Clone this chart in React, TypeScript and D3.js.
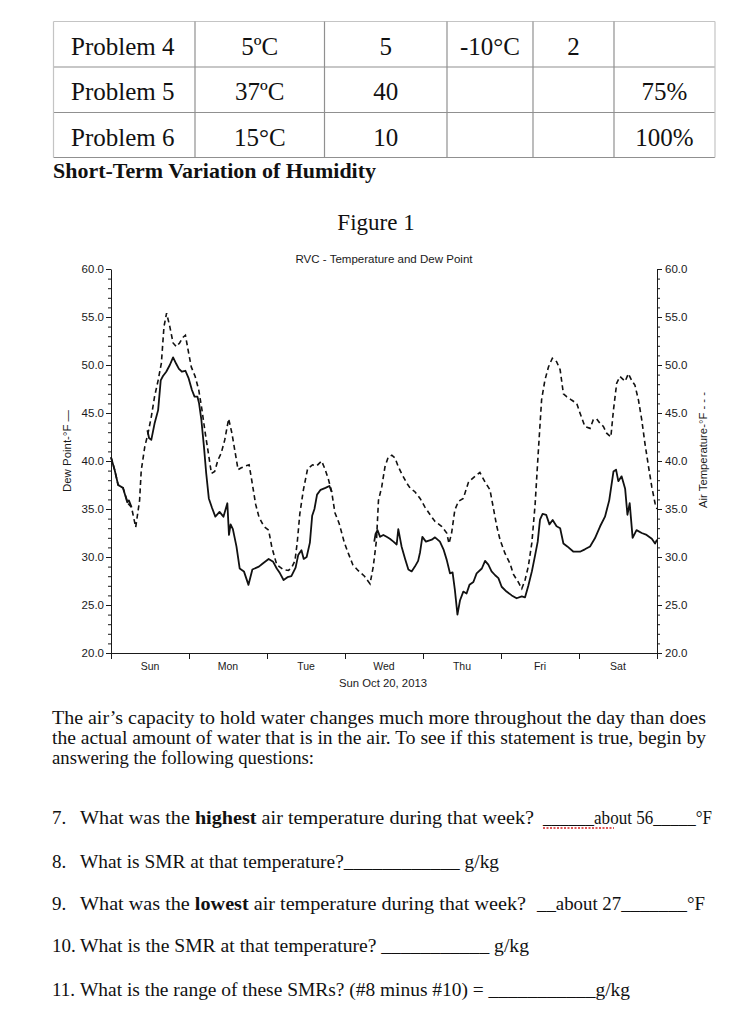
import * as React from 'react';
import * as d3 from 'd3';

// ---- chart data (hours from Sun 00:00, degrees F) ----
const dayLabels = ['Sun', 'Mon', 'Tue', 'Wed', 'Thu', 'Fri', 'Sat'];
const dayTicks = [0, 24, 48, 72, 96, 120, 144, 168];
const yTicks = [20, 25, 30, 35, 40, 45, 50, 55, 60];

const tempHours = [
  0, 1.1, 2.2, 3.7, 5.2, 6.3, 7.6, 8.8, 9.3, 10.4,
  11.4, 12.4, 13.4, 14.5, 15.5, 16.3, 17.1, 18.1, 19.1, 20.1,
  21.1, 22.2, 22.9, 23.7, 24.7, 25.9, 27.0, 28.0, 29.0, 30.1,
  30.9, 31.9, 32.9, 33.9, 35.0, 36.2, 37.2, 38.1, 39.1, 40.1,
  41.6, 42.5, 43.3, 44.5, 45.5, 47.0, 48.5, 49.5, 51.0, 53.0,
  54.6, 55.6, 56.6, 57.3, 58.1, 59.2, 60.5, 62.0, 63.3, 64.8,
  65.8, 66.8, 67.9, 68.9, 70.2, 71.8, 73.0, 74.4, 76.0, 78.0,
  79.7, 80.7, 81.7, 82.3, 83.3, 84.3, 85.3, 86.4, 87.4, 88.4,
  89.4, 91.0, 92.0, 93.5, 95.1, 96.6, 98.2, 99.7, 101.7, 103.3,
  104.0, 104.8, 105.8, 106.9, 108.4, 110.0, 112.0, 113.5, 115.1, 116.6,
  117.6, 118.7, 119.7, 121.2, 122.8, 123.8, 125.3, 126.4, 127.4, 128.4,
  129.5, 130.5, 131.5, 132.5, 133.5, 134.6, 135.8, 137.1, 138.2, 139.2,
  140.2, 141.7, 143.3, 144.3, 145.8, 147.4, 148.4, 149.4, 150.5, 151.5,
  152.5, 153.8, 154.6, 155.6, 156.6, 158.2, 159.2, 160.2, 161.2, 162.3,
  163.3, 164.3, 165.4, 166.4, 167.4, 168
];
const tempValues = [
  40.4, 39.1, 37.5, 37.2, 35.6, 35.2, 33.1, 35.9, 39.0, 41.5,
  42.9, 44.6, 46.7, 48.4, 50.2, 54.0, 55.4, 54.0, 52.3, 51.9,
  52.3, 52.9, 53.1, 51.6, 49.8, 48.8, 47.4, 45.3, 42.9, 40.5,
  38.7, 38.9, 40.1, 40.8, 42.2, 44.4, 42.9, 41.1, 39.1, 39.3,
  39.5, 39.6, 38.0, 35.5, 34.2, 33.2, 32.8, 31.0, 29.2, 28.7,
  28.6, 28.9, 29.6, 31.5, 34.5, 37.0, 39.2, 39.6, 39.5, 40.0,
  39.2, 38.2, 36.8, 34.6, 33.5, 31.5, 30.4, 29.2, 28.6, 28.0,
  27.2, 29.0, 31.8, 35.9, 37.3, 39.4, 40.4, 40.6, 40.3, 39.4,
  38.7, 37.7, 37.2, 36.8, 36.1, 35.2, 34.4, 33.7, 33.2, 32.5,
  31.4, 32.5, 34.9, 35.8, 36.1, 37.8, 38.4, 38.8, 37.8, 37.0,
  35.2, 33.2, 31.8, 30.4, 29.3, 28.2, 27.4, 26.7, 27.6, 29.0,
  31.5, 35.5, 41.1, 46.4, 48.4, 49.8, 50.7, 50.35, 49.5, 47.0,
  46.7, 46.35, 46.0, 45.0, 43.6, 43.4, 44.3, 44.4, 43.9, 43.6,
  42.9, 42.5, 45.3, 48.1, 48.8, 48.3, 49.1, 48.4, 47.9, 46.35,
  44.3, 41.8, 39.4, 37.3, 35.6, 35.0
];

// null = gap in the dew point record
const dewHours = [
  0, 1.1, 2.2, 3.7, 5.0, 5.5, 6.3, 9.0, 11.2, 11.7,
  12.4, 13.4, 14.5, 15.3, 16.0, 17.0, 18.1, 19.1, 20.1, 20.9,
  21.8, 22.9, 23.9, 24.9, 25.7, 26.6, 27.1, 27.8, 28.6, 29.3,
  30.1, 31.1, 32.1, 33.4, 34.6, 35.8, 36.3, 36.8, 37.5, 38.6,
  39.6, 40.9, 42.3, 43.5, 45.5, 46.6, 48.5, 49.9, 51.0, 52.0,
  53.1, 54.3, 55.5, 56.8, 57.6, 58.6, 59.3, 60.2, 61.2, 61.9,
  62.6, 63.4, 64.5, 66.0, 67.2, 67.9, 74.0, 81.0, 81.4, 82.0,
  82.8, 83.8, 84.8, 85.8, 86.9, 87.9, 88.4, 89.4, 90.5, 91.5,
  92.5, 93.5, 94.5, 95.1, 95.8, 96.9, 98.7, 99.7, 101.2, 102.3,
  103.3, 104.3, 105.1, 105.8, 106.6, 107.4, 108.4, 109.4, 110.3, 111.5,
  112.5, 114.1, 115.1, 116.1, 117.1, 118.2, 119.2, 120.2, 121.7, 123.3,
  124.8, 126.4, 127.4, 128.4, 129.5, 130.5, 131.3, 132.0, 132.8, 133.9,
  134.9, 135.9, 137.1, 138.2, 139.2, 140.4, 142.3, 144.3, 145.8, 147.4,
  148.9, 150.5, 152.0, 153.3, 154.6, 155.4, 156.1, 157.1, 158.2, 158.9,
  159.6, 160.5, 161.7, 163.3, 164.8, 166.4, 167.4, 168
];
const dewValues = [
  40.4, 39.1, 37.5, 37.2, 35.7, 35.9, 35.2, null, 43.2, 42.4,
  42.2, 43.9, 45.3, 48.4, 48.85, 49.3, 50.0, 50.8, 50.1, 49.6,
  49.3, 49.4, 48.6, 47.4, 46.7, 46.7, 46.0, 44.3, 41.5, 38.7,
  36.1, 35.1, 34.2, 34.7, 34.2, 35.6, 32.3, 33.4, 32.9, 31.1,
  28.8, 28.5, 27.1, 28.7, 29.0, 29.3, 29.8, 29.5, 28.8, 28.3,
  27.6, 27.9, 28.0, 28.9, 30.2, 30.7, 29.8, 30.0, 31.5, 34.3,
  35.0, 36.5, 37.0, 37.2, 37.4, 36.8, null, 31.6, 32.4, 32.8,
  32.1, 32.3, 32.1, 31.9, 31.6, 31.3, 32.9, 31.1, 29.8, 28.7,
  28.5, 29.0, 29.6, 30.5, 32.1, 31.6, 31.8, 32.05, 31.6, 30.8,
  29.7, 28.3, 28.4, 26.6, 24.0, 25.5, 26.4, 26.2, 27.1, 27.4,
  28.3, 28.8, 29.6, 29.2, 28.5, 28.1, 27.8, 26.9, 26.4, 26.0,
  25.7, 25.9, 25.8, 27.0, 28.5, 30.2, 31.6, 33.9, 34.5, 34.4,
  33.4, 33.85, 33.2, 33.0, 31.4, 31.1, 30.55, 30.55, 30.8, 31.1,
  31.95, 33.2, 34.2, 35.9, 38.9, 39.1, 37.9, 38.4, 37.1, 34.4,
  35.6, 32.0, 32.8, 32.5, 32.3, 31.9, 31.4, 31.8
];

// ---- worksheet table ----
const tableRows = [
  ['Problem 4', '5ºC', '5', '-10°C', '2', ''],
  ['Problem 5', '37ºC', '40', '', '', '75%'],
  ['Problem 6', '15°C', '10', '', '', '100%'],
];
const colEdges = [53.5, 195, 324.5, 447, 533, 614, 715];
const rowEdges = [21.5, 67, 112.5, 157.5];

const serif = "'Liberation Serif', 'Times New Roman', serif";
const sans = "'Liberation Sans', Arial, sans-serif";

function Chart() {
  const ref = React.useRef<SVGGElement>(null);

  React.useEffect(() => {
    const g = d3.select(ref.current);
    g.selectAll('*').remove();

    const x = d3.scaleLinear().domain([0, 168]).range([111, 657]);
    const y = d3.scaleLinear().domain([20, 60]).range([653, 269]);
    const ink = '#1a1a1a';
    const minor = d3.range(20, 61, 1);

    const styleAxis = (sel) => {
      sel.attr('font-family', sans).attr('font-size', 11.5).style('color', ink);
    };

    // minor ticks
    g.append('g')
      .attr('transform', 'translate(111,0)')
      .call(d3.axisLeft(y).tickValues(minor).tickSize(3).tickFormat(() => ''))
      .call(s => s.select('.domain').remove())
      .style('color', ink);
    g.append('g')
      .attr('transform', 'translate(657,0)')
      .call(d3.axisRight(y).tickValues(minor).tickSize(3).tickFormat(() => ''))
      .call(s => s.select('.domain').remove())
      .style('color', ink);

    // major ticks + labels
    g.append('g')
      .attr('transform', 'translate(111,0)')
      .call(d3.axisLeft(y).tickValues(yTicks).tickSize(5).tickSizeOuter(0).tickPadding(2).tickFormat(d3.format('.1f')))
      .call(styleAxis);
    g.append('g')
      .attr('transform', 'translate(657,0)')
      .call(d3.axisRight(y).tickValues(yTicks).tickSize(5).tickSizeOuter(0).tickPadding(3).tickFormat(d3.format('.1f')))
      .call(styleAxis);

    g.append('g')
      .attr('transform', 'translate(0,653)')
      .call(d3.axisBottom(x).tickValues(dayTicks).tickSize(6).tickSizeOuter(0).tickFormat(() => ''))
      .call(styleAxis);

    g.append('g')
      .selectAll('text')
      .data(dayLabels)
      .join('text')
      .attr('x', (d, i) => x(i * 24 + 12))
      .attr('y', 670)
      .attr('text-anchor', 'middle')
      .attr('font-family', sans)
      .attr('font-size', 10.5)
      .attr('fill', ink)
      .text(d => d);

    const tempPts = tempHours.map((h, i) => [h, tempValues[i]]);
    const dewPts = dewHours.map((h, i) => [h, dewValues[i]]);

    const line = d3.line<any>()
      .defined(d => d[1] != null)
      .x(d => x(d[0]))
      .y(d => y(d[1]));

    g.append('path')
      .datum(dewPts)
      .attr('d', line)
      .attr('fill', 'none')
      .attr('stroke', '#111')
      .attr('stroke-width', 1.8)
      .attr('stroke-linejoin', 'round');

    g.append('path')
      .datum(tempPts)
      .attr('d', line)
      .attr('fill', 'none')
      .attr('stroke', '#111')
      .attr('stroke-width', 1.6)
      .attr('stroke-dasharray', '5 3.5');
  }, []);

  return <g ref={ref} />;
}

export default function App() {
  const q = { fontFamily: serif, fontSize: 19, fill: '#111' };
  const fit = (w: number) => ({ textLength: w, lengthAdjust: 'spacingAndGlyphs' as const });

  return (
    <svg width={749} height={1024} style={{ position: 'absolute', left: 0, top: 0, background: '#fff' }}>
      <rect width={749} height={1024} fill="#fff" />

      {/* table */}
      {rowEdges.map((ry, i) => (
        <line key={'r' + i} x1={colEdges[0]} x2={colEdges[6]} y1={ry} y2={ry}
          stroke={i === 0 ? '#c4c4c4' : '#909090'} strokeWidth={1.2} />
      ))}
      {colEdges.map((cx, i) => (
        <line key={'c' + i} x1={cx} x2={cx} y1={rowEdges[0]} y2={rowEdges[3]}
          stroke={i === 0 || i === 6 ? '#c4c4c4' : '#909090'} strokeWidth={1.2} />
      ))}
      {tableRows.map((row, r) =>
        row.map((cell, c) => (
          <text key={r + '-' + c}
            x={c === 0 ? 71 : (colEdges[c] + colEdges[c + 1]) / 2}
            y={rowEdges[r] + 33}
            textAnchor={c === 0 ? 'start' : 'middle'}
            fontFamily={serif} fontSize={25} fill="#111">{cell}</text>
        ))
      )}

      <text x={53} y={178} fontFamily={serif} fontSize={22} fontWeight="bold" fill="#111" {...fit(323)}>
        Short-Term Variation of Humidity
      </text>

      <text x={376} y={230} textAnchor="middle" fontFamily={serif} fontSize={23} fill="#111">Figure 1</text>

      {/* chart */}
      <text x={384} y={263} textAnchor="middle" fontFamily={sans} fontSize={11} fill="#1a1a1a" {...fit(177)}>
        RVC - Temperature and Dew Point
      </text>
      <text transform="translate(71,451) rotate(-90)" textAnchor="middle" fontFamily={sans} fontSize={11} fill="#1a1a1a" {...fit(82)}>
        Dew Point-°F —
      </text>
      <text transform="translate(707,450) rotate(-90)" textAnchor="middle" fontFamily={sans} fontSize={11} fill="#1a1a1a" {...fit(116)}>
        Air Temperature-°F - - -
      </text>
      <Chart />
      <text x={383} y={687} textAnchor="middle" fontFamily={sans} fontSize={10.5} fill="#1a1a1a" {...fit(88)}>
        Sun Oct 20, 2013
      </text>

      {/* paragraph */}
      <text x={52} y={724} style={q} {...fit(654)}>
        The air’s capacity to hold water changes much more throughout the day than does
      </text>
      <text x={52} y={744} style={q} {...fit(654)}>
        the actual amount of water that is in the air. To see if this statement is true, begin by
      </text>
      <text x={52} y={764} style={q} {...fit(262)}>answering the following questions:</text>

      {/* 7 */}
      <text x={52} y={824} style={q}>7.</text>
      <text x={80} y={824} style={q} {...fit(454)}>
        What was the <tspan fontWeight="bold">highest</tspan> air temperature during that week?
      </text>
      <text x={543} y={824} style={q} {...fit(169)}>______about 56_____°F</text>
      <line x1={543} x2={614} y1={828} y2={828} stroke="#d42020" strokeWidth={1.6} strokeDasharray="2 1.5" />

      {/* 8 */}
      <text x={52} y={868} style={q}>8.</text>
      <text x={80} y={868} style={q} {...fit(419)}>What is SMR at that temperature?____________ g/kg</text>

      {/* 9 */}
      <text x={52} y={910} style={q}>9.</text>
      <text x={80} y={910} style={q} {...fit(446)}>
        What was the <tspan fontWeight="bold">lowest</tspan> air temperature during that week?
      </text>
      <text x={537} y={910} style={q} {...fit(168)}>__about 27_______°F</text>

      {/* 10 */}
      <text x={52} y={952} style={q}>10.</text>
      <text x={80} y={952} style={q} {...fit(449)}>What is the SMR at that temperature? ___________ g/kg</text>

      {/* 11 */}
      <text x={52} y={996} style={q}>11.</text>
      <text x={80} y={996} style={q} {...fit(550)}>What is the range of these SMRs?  (#8 minus #10) = ___________g/kg</text>
    </svg>
  );
}
